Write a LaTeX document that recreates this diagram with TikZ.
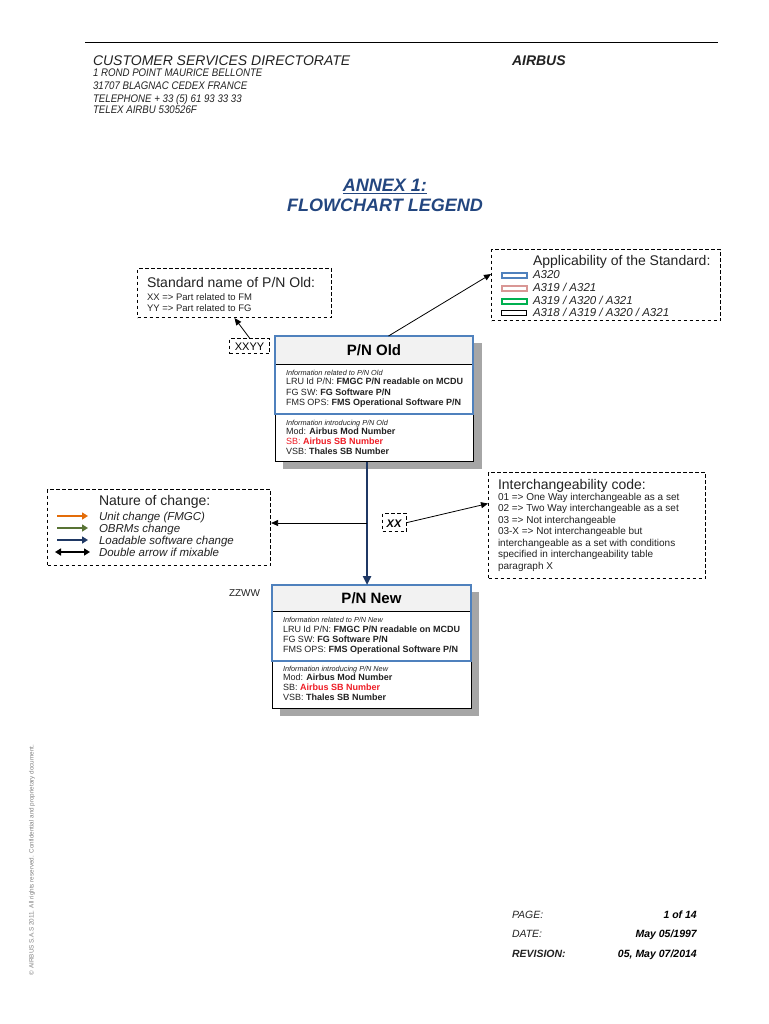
\documentclass[tikz,border=0pt]{standalone}
\usepackage{fontspec}
\setmainfont{Liberation Sans}
\newfontfamily\narrowfont[FakeStretch=0.88]{Liberation Sans}
\usetikzlibrary{arrows.meta}
\definecolor{titleblue}{HTML}{23467F}
\definecolor{boxblue}{HTML}{4F81BD}
\definecolor{legpink}{HTML}{D99795}
\definecolor{leggreen}{HTML}{00B050}
\definecolor{navyarr}{HTML}{1F3864}
\definecolor{orangearr}{HTML}{E36C09}
\definecolor{olivearr}{HTML}{587334}
\definecolor{shadowgray}{HTML}{A6A6A6}
\definecolor{headfill}{HTML}{F2F2F2}
\definecolor{sbred}{HTML}{EE1C25}
\definecolor{bodytext}{HTML}{222222}
\newcommand{\fsz}[1]{\fontsize{#1}{#1}\selectfont}
\begin{document}
\begin{tikzpicture}[x=1pt,y=-1pt,
  txt/.style={anchor=base west, inner sep=0pt, outer sep=0pt, text=bodytext},
  ctxt/.style={anchor=base, inner sep=0pt, outer sep=0pt},
  dbox/.style={draw, line width=1.1pt, dash pattern=on 3.5pt off 2.5pt, inner sep=0pt, anchor=north west},
  arr/.style={-{Triangle[length=7pt,width=6pt]}, line width=0.8pt},
  tiny/.style={txt, font=\itshape\fsz{7.3}},
  info/.style={txt, font=\fsz{9}},
  legbox/.style={draw, line width=2pt, minimum width=25pt, minimum height=5pt, inner sep=0pt, anchor=north west},
  legarr/.style={line width=2.2pt, -{Triangle[length=6pt,width=7pt]}},
  legtxt/.style={txt, font=\itshape\fsz{11.5}},
  ictxt/.style={txt, font=\fsz{10}},
  foot/.style={txt, font=\itshape\fsz{10.5}},
  footr/.style={anchor=base east, inner sep=0pt, font=\bfseries\itshape\fsz{10.5}}
]
\useasboundingbox (0,0) rectangle (768,1024);

% ---------- header ----------
\draw[line width=0.9pt] (85,42) -- (718,42);
\node[txt, font=\itshape\fsz{14}] (hdir) at (93,66) {CUSTOMER SERVICES DIRECTORATE};
\node[txt, font=\bfseries\itshape\fsz{14}] (hair) at (512,66) {AIRBUS};
\node[txt, font=\narrowfont\itshape\fsz{11}] (ad1) at (93,77) {1 ROND POINT MAURICE BELLONTE};
\node[txt, font=\narrowfont\itshape\fsz{11}] (ad2) at (93,90) {31707 BLAGNAC CEDEX FRANCE};
\node[txt, font=\narrowfont\itshape\fsz{11}] (ad3) at (93,103) {TELEPHONE + 33 (5) 61 93 33 33};
\node[txt, font=\narrowfont\itshape\fsz{11}] (ad4) at (93,114) {TELEX AIRBU 530526F};

% ---------- title ----------
\node[ctxt, text=titleblue, font=\bfseries\itshape\fsz{18}] (t1) at (385,192) {\underline{ANNEX 1:}};
\node[ctxt, text=titleblue, font=\bfseries\itshape\fsz{18}] (t2) at (385,212) {FLOWCHART LEGEND};

% ---------- standard name box ----------
\node[dbox, minimum width=194pt, minimum height=49pt] (stdbox) at (137,268) {};
\node[txt, font=\fsz{14}] (stdt) at (147,287) {Standard name of P/N Old:};
\node[txt, font=\fsz{9.5}] (std1) at (147,300) {XX => Part related to FM};
\node[txt, font=\fsz{9.5}] (std2) at (147,311) {YY => Part related to FG};
\node[dbox, minimum width=40pt, minimum height=15pt] (xxyy) at (229,338) {};
\node[ctxt, font=\fsz{11}] (xxyyt) at (249.5,350) {XXYY};
\draw[arr] (xxyy.north) -- (stdbox.south);

% ---------- applicability box ----------
\node[dbox, minimum width=229pt, minimum height=71pt] (appbox) at (491,249) {};
\node[txt, font=\fsz{14}] (appt) at (533,265.5) {Applicability of the Standard:};
\node[legbox, draw=boxblue] (lb1) at (501,272) {};
\node[legbox, draw=legpink] (lb2) at (501,285) {};
\node[legbox, draw=leggreen] (lb3) at (501,298) {};
\node[legbox, draw=black, line width=1pt] (lb4) at (501,310) {};
\node[legtxt] (la1) at (533,278) {A320};
\node[legtxt] (la2) at (533,291) {A319 / A321};
\node[legtxt] (la3) at (533,304) {A319 / A320 / A321};
\node[legtxt] (la4) at (533,316) {A318 / A319 / A320 / A321};

% ---------- P/N Old ----------
\fill[shadowgray] (283,343) rectangle (482,469);
\node[draw, line width=1pt, fill=white, minimum width=198pt, minimum height=125pt, inner sep=0pt, anchor=north west] (pnold) at (275,336) {};
\fill[headfill] (275,336) rectangle (473,364);
\draw[line width=0.8pt] (275,364) -- (473,364);
\draw[boxblue, line width=2pt] (275,336) rectangle (473,414);
\node[ctxt, font=\bfseries\fsz{15}] (pnoldt) at (374,355) {P/N Old};
\node[tiny] (o0) at (286,375) {Information related to P/N Old};
\node[info] (o1) at (286,384.5) {LRU Id P/N: \textbf{FMGC P/N readable on MCDU}};
\node[info] (o2) at (286,395) {FG SW: \textbf{FG Software P/N}};
\node[info] (o3) at (286,405) {FMS OPS: \textbf{FMS Operational Software P/N}};
\node[tiny] (o4) at (286,425) {Information introducing P/N Old};
\node[info] (o5) at (286,434.5) {Mod: \textbf{Airbus Mod Number}};
\node[info, text=sbred] (o6) at (286,444.5) {SB: \textbf{Airbus SB Number}};
\node[info] (o7) at (286,454.5) {VSB: \textbf{Thales SB Number}};

% ---------- P/N New ----------
\fill[shadowgray] (280,592) rectangle (479,716);
\node[draw, line width=1pt, fill=white, minimum width=199pt, minimum height=123pt, inner sep=0pt, anchor=north west] (pnnew) at (272,585) {};
\fill[headfill] (272,585) rectangle (471,611);
\draw[line width=0.8pt] (272,611) -- (471,611);
\draw[boxblue, line width=2pt] (272,585) rectangle (471,661);
\node[ctxt, font=\bfseries\fsz{15}] (pnnewt) at (371.5,603) {P/N New};
\node[tiny] (n0) at (283,622) {Information related to P/N New};
\node[info] (n1) at (283,632) {LRU Id P/N: \textbf{FMGC P/N readable on MCDU}};
\node[info] (n2) at (283,642) {FG SW: \textbf{FG Software P/N}};
\node[info] (n3) at (283,652) {FMS OPS: \textbf{FMS Operational Software P/N}};
\node[tiny] (n4) at (283,671) {Information introducing P/N New};
\node[info] (n5) at (283,680.5) {Mod: \textbf{Airbus Mod Number}};
\node[info] (n6) at (283,690.5) {SB: \textcolor{sbred}{\textbf{Airbus SB Number}}};
\node[info] (n7) at (283,700.5) {VSB: \textbf{Thales SB Number}};
\node[txt, font=\fsz{10}] (zzww) at (229,596) {ZZWW};

% ---------- nature of change ----------
\node[dbox, minimum width=223pt, minimum height=76pt] (natbox) at (47,489) {};
\node[txt, font=\fsz{14}] (natt) at (99,505) {Nature of change:};
\draw[legarr, orangearr] (57,516) -- (88,516);
\draw[legarr, olivearr] (57,528) -- (88,528);
\draw[legarr, navyarr] (57,540) -- (88,540);
\draw[legarr, black, {Triangle[length=6pt,width=7pt]}-{Triangle[length=6pt,width=7pt]}] (55,552) -- (90,552);
\node[legtxt] (nat1) at (99,520) {Unit change (FMGC)};
\node[legtxt] (nat2) at (99,532) {OBRMs change};
\node[legtxt] (nat3) at (99,544) {Loadable software change};
\node[legtxt] (nat4) at (99,556) {Double arrow if mixable};

% ---------- interchangeability ----------
\node[dbox, minimum width=217pt, minimum height=106pt] (icbox) at (488,472) {};
\node[txt, font=\fsz{14}] (ict) at (498,489) {Interchangeability code:};
\node[ictxt] (ic1) at (498,500) {01 => One Way interchangeable as a set};
\node[ictxt] (ic2) at (498,511.5) {02 => Two Way interchangeable as a set};
\node[ictxt] (ic3) at (498,523) {03 => Not interchangeable};
\node[ictxt] (ic4) at (498,534.5) {03-X => Not interchangeable but};
\node[ictxt] (ic5) at (498,546) {interchangeable as a set with conditions};
\node[ictxt] (ic6) at (498,557.5) {specified in interchangeability table};
\node[ictxt] (ic7) at (498,569) {paragraph X};

% ---------- connectors ----------
\coordinate (branch) at (367,523);
\draw[navyarr, line width=2.6pt, -{Triangle[length=9pt,width=8pt]}] (pnold.south -| branch) -- (pnnew.north -| branch);
\draw[arr] (branch) -- (natbox.east |- branch);
\node[dbox, minimum width=24pt, minimum height=18pt] (xx) at (382,513) {};
\node[ctxt, font=\bfseries\itshape\fsz{11}] (xxt) at (394,527) {XX};
\draw[arr] (xx.east) -- ([yshift=22pt]icbox.west);
\draw[arr] ([xshift=14pt]pnold.north) -- ([yshift=11pt]appbox.west);

% ---------- footer ----------
\node[foot] (fp) at (512,918) {PAGE:};
\node[footr] (fpv) at (697,918) {1 of 14};
\node[foot] (fd) at (512,937) {DATE:};
\node[footr] (fdv) at (697,937) {May 05/1997};
\node[foot, font=\bfseries\itshape\fsz{10.5}] (fr) at (512,957) {REVISION:};
\node[footr] (frv) at (697,957) {05, May 07/2014};

% ---------- side text ----------
\node[rotate=90, inner sep=0pt, text=gray, font=\fsz{6.3}] (copy) at (32,860) {\copyright{} AIRBUS S.A.S 2011. All rights reserved. Confidential and proprietary document.};
\end{tikzpicture}
\end{document}
